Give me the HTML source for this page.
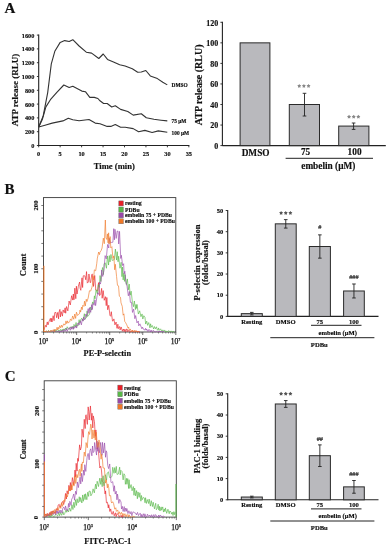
<!DOCTYPE html>
<html><head><meta charset="utf-8"><style>
html,body{margin:0;padding:0;background:#fff;width:390px;height:550px;overflow:hidden;}
svg{display:block;will-change:transform;}
text{font-family:"Liberation Serif",serif;font-weight:bold;stroke:#111;stroke-width:0.16px;}
</style></head><body>
<svg width="390" height="550" viewBox="0 0 390 550">
<rect width="390" height="550" fill="#fff"/>
<text x="10.00" y="8.40" font-size="15" text-anchor="middle" dominant-baseline="central" fill="#111" >A</text>
<text x="9.60" y="189.00" font-size="15" text-anchor="middle" dominant-baseline="central" fill="#111" >B</text>
<text x="10.20" y="376.20" font-size="15" text-anchor="middle" dominant-baseline="central" fill="#111" >C</text>
<line x1="38.70" y1="145.50" x2="189.35" y2="145.50" stroke="#222" stroke-width="1.1"/>
<line x1="38.70" y1="146.00" x2="38.70" y2="34.60" stroke="#222" stroke-width="1.1"/>
<line x1="36.90" y1="145.50" x2="38.70" y2="145.50" stroke="#222" stroke-width="0.9"/>
<text x="34.40" y="145.50" font-size="6.3" text-anchor="end" dominant-baseline="central" fill="#111" >0</text>
<line x1="36.90" y1="131.70" x2="38.70" y2="131.70" stroke="#222" stroke-width="0.9"/>
<text x="34.40" y="131.70" font-size="6.3" text-anchor="end" dominant-baseline="central" fill="#111" >200</text>
<line x1="36.90" y1="117.90" x2="38.70" y2="117.90" stroke="#222" stroke-width="0.9"/>
<text x="34.40" y="117.90" font-size="6.3" text-anchor="end" dominant-baseline="central" fill="#111" >400</text>
<line x1="36.90" y1="104.10" x2="38.70" y2="104.10" stroke="#222" stroke-width="0.9"/>
<text x="34.40" y="104.10" font-size="6.3" text-anchor="end" dominant-baseline="central" fill="#111" >600</text>
<line x1="36.90" y1="90.30" x2="38.70" y2="90.30" stroke="#222" stroke-width="0.9"/>
<text x="34.40" y="90.30" font-size="6.3" text-anchor="end" dominant-baseline="central" fill="#111" >800</text>
<line x1="36.90" y1="76.50" x2="38.70" y2="76.50" stroke="#222" stroke-width="0.9"/>
<text x="34.40" y="76.50" font-size="6.3" text-anchor="end" dominant-baseline="central" fill="#111" >1000</text>
<line x1="36.90" y1="62.70" x2="38.70" y2="62.70" stroke="#222" stroke-width="0.9"/>
<text x="34.40" y="62.70" font-size="6.3" text-anchor="end" dominant-baseline="central" fill="#111" >1200</text>
<line x1="36.90" y1="48.90" x2="38.70" y2="48.90" stroke="#222" stroke-width="0.9"/>
<text x="34.40" y="48.90" font-size="6.3" text-anchor="end" dominant-baseline="central" fill="#111" >1400</text>
<line x1="36.90" y1="35.10" x2="38.70" y2="35.10" stroke="#222" stroke-width="0.9"/>
<text x="34.40" y="35.10" font-size="6.3" text-anchor="end" dominant-baseline="central" fill="#111" >1600</text>
<line x1="38.70" y1="145.50" x2="38.70" y2="147.30" stroke="#222" stroke-width="0.9"/>
<text x="38.70" y="153.10" font-size="6.3" text-anchor="middle" dominant-baseline="central" fill="#111" >0</text>
<line x1="60.15" y1="145.50" x2="60.15" y2="147.30" stroke="#222" stroke-width="0.9"/>
<text x="60.15" y="153.10" font-size="6.3" text-anchor="middle" dominant-baseline="central" fill="#111" >5</text>
<line x1="81.60" y1="145.50" x2="81.60" y2="147.30" stroke="#222" stroke-width="0.9"/>
<text x="81.60" y="153.10" font-size="6.3" text-anchor="middle" dominant-baseline="central" fill="#111" >10</text>
<line x1="103.05" y1="145.50" x2="103.05" y2="147.30" stroke="#222" stroke-width="0.9"/>
<text x="103.05" y="153.10" font-size="6.3" text-anchor="middle" dominant-baseline="central" fill="#111" >15</text>
<line x1="124.50" y1="145.50" x2="124.50" y2="147.30" stroke="#222" stroke-width="0.9"/>
<text x="124.50" y="153.10" font-size="6.3" text-anchor="middle" dominant-baseline="central" fill="#111" >20</text>
<line x1="145.95" y1="145.50" x2="145.95" y2="147.30" stroke="#222" stroke-width="0.9"/>
<text x="145.95" y="153.10" font-size="6.3" text-anchor="middle" dominant-baseline="central" fill="#111" >25</text>
<line x1="167.40" y1="145.50" x2="167.40" y2="147.30" stroke="#222" stroke-width="0.9"/>
<text x="167.40" y="153.10" font-size="6.3" text-anchor="middle" dominant-baseline="central" fill="#111" >30</text>
<line x1="188.85" y1="145.50" x2="188.85" y2="147.30" stroke="#222" stroke-width="0.9"/>
<text x="188.85" y="153.10" font-size="6.3" text-anchor="middle" dominant-baseline="central" fill="#111" >35</text>
<text x="114.30" y="166.00" font-size="8.6" text-anchor="middle" dominant-baseline="central" fill="#111" >Time (min)</text>
<text x="15.30" y="90.00" font-size="9" text-anchor="middle" dominant-baseline="central" fill="#111" transform="rotate(-90 15.30 90.00)" >ATP release (RLU)</text>
<polyline points="38.70,127.00 43.20,115.90 47.70,92.60 51.30,63.90 54.80,51.30 60.20,42.40 64.70,40.60 69.20,41.50 72.80,39.70 79.10,46.00 86.30,52.20 91.60,53.10 98.80,58.50 103.20,54.00 107.50,59.40 113.50,61.90 119.70,64.80 125.10,66.00 132.30,68.70 137.70,72.30 141.30,72.00 145.80,70.50 150.30,75.90 157.40,78.60 162.80,82.20 167.30,84.90" fill="none" stroke="#333" stroke-width="1.1" stroke-linejoin="round" opacity="1"/>
<polyline points="38.70,127.00 42.30,119.50 45.90,106.90 50.40,99.70 56.60,92.60 63.80,85.00 69.20,87.50 72.80,86.30 81.80,91.10 85.40,91.70 89.80,97.40 94.30,97.40 97.90,98.50 100.00,100.80 103.60,103.50 107.20,103.50 111.70,107.00 115.30,105.80 120.60,109.40 127.80,111.50 133.20,115.10 141.30,113.70 146.30,117.80 153.90,119.30 161.00,120.20 167.30,120.90" fill="none" stroke="#333" stroke-width="1.1" stroke-linejoin="round" opacity="1"/>
<polyline points="38.70,127.00 45.00,125.20 52.20,123.10 62.90,120.90 68.30,118.20 72.80,119.80 79.10,120.70 89.00,119.50 95.20,123.10 100.00,123.70 107.20,126.40 110.80,126.40 115.30,124.60 120.60,127.30 125.10,127.30 133.20,128.60 138.60,131.80 144.90,130.40 152.10,132.50 158.30,130.90 167.30,132.20" fill="none" stroke="#333" stroke-width="1.1" stroke-linejoin="round" opacity="1"/>
<text x="171.50" y="85.40" font-size="5.4" text-anchor="start" dominant-baseline="central" fill="#111" >DMSO</text>
<text x="171.50" y="120.80" font-size="5.4" text-anchor="start" dominant-baseline="central" fill="#111" >75 μM</text>
<text x="171.50" y="132.60" font-size="5.4" text-anchor="start" dominant-baseline="central" fill="#111" >100 μM</text>
<line x1="222.40" y1="145.60" x2="385.80" y2="145.60" stroke="#222" stroke-width="1.1"/>
<line x1="222.40" y1="146.10" x2="222.40" y2="21.80" stroke="#222" stroke-width="1.1"/>
<line x1="220.40" y1="145.60" x2="222.40" y2="145.60" stroke="#222" stroke-width="0.9"/>
<text x="218.20" y="146.30" font-size="8" text-anchor="end" dominant-baseline="central" fill="#111" >0</text>
<line x1="220.40" y1="125.05" x2="222.40" y2="125.05" stroke="#222" stroke-width="0.9"/>
<text x="218.20" y="125.75" font-size="8" text-anchor="end" dominant-baseline="central" fill="#111" >20</text>
<line x1="220.40" y1="104.50" x2="222.40" y2="104.50" stroke="#222" stroke-width="0.9"/>
<text x="218.20" y="105.20" font-size="8" text-anchor="end" dominant-baseline="central" fill="#111" >40</text>
<line x1="220.40" y1="83.95" x2="222.40" y2="83.95" stroke="#222" stroke-width="0.9"/>
<text x="218.20" y="84.65" font-size="8" text-anchor="end" dominant-baseline="central" fill="#111" >60</text>
<line x1="220.40" y1="63.40" x2="222.40" y2="63.40" stroke="#222" stroke-width="0.9"/>
<text x="218.20" y="64.10" font-size="8" text-anchor="end" dominant-baseline="central" fill="#111" >80</text>
<line x1="220.40" y1="42.85" x2="222.40" y2="42.85" stroke="#222" stroke-width="0.9"/>
<text x="218.20" y="43.55" font-size="8" text-anchor="end" dominant-baseline="central" fill="#111" >100</text>
<line x1="220.40" y1="22.30" x2="222.40" y2="22.30" stroke="#222" stroke-width="0.9"/>
<text x="218.20" y="23.00" font-size="8" text-anchor="end" dominant-baseline="central" fill="#111" >120</text>
<text x="198.20" y="84.80" font-size="10" text-anchor="middle" dominant-baseline="central" fill="#111" transform="rotate(-90 198.20 84.80)" >ATP release (RLU)</text>
<rect x="240.10" y="42.85" width="29.80" height="102.75" fill="#b9b9bd" stroke="#2a2a2a" stroke-width="1"/>
<rect x="289.30" y="104.50" width="30.20" height="41.10" fill="#b9b9bd" stroke="#2a2a2a" stroke-width="1"/>
<rect x="338.70" y="126.08" width="30.20" height="19.52" fill="#b9b9bd" stroke="#2a2a2a" stroke-width="1"/>
<line x1="304.50" y1="93.30" x2="304.50" y2="116.00" stroke="#222" stroke-width="0.9"/>
<line x1="302.70" y1="93.30" x2="306.30" y2="93.30" stroke="#222" stroke-width="0.9"/>
<line x1="302.70" y1="116.00" x2="306.30" y2="116.00" stroke="#222" stroke-width="0.9"/>
<line x1="353.60" y1="123.00" x2="353.60" y2="129.40" stroke="#222" stroke-width="0.9"/>
<line x1="351.80" y1="123.00" x2="355.40" y2="123.00" stroke="#222" stroke-width="0.9"/>
<line x1="351.80" y1="129.40" x2="355.40" y2="129.40" stroke="#222" stroke-width="0.9"/>
<polygon points="299.25,83.90 299.93,85.07 301.25,85.35 300.35,86.36 300.48,87.70 299.25,87.16 298.02,87.70 298.15,86.36 297.25,85.35 298.57,85.07" fill="#888"/>
<polygon points="303.90,83.90 304.58,85.07 305.90,85.35 305.00,86.36 305.13,87.70 303.90,87.16 302.67,87.70 302.80,86.36 301.90,85.35 303.22,85.07" fill="#888"/>
<polygon points="308.55,83.90 309.23,85.07 310.55,85.35 309.65,86.36 309.78,87.70 308.55,87.16 307.32,87.70 307.45,86.36 306.55,85.35 307.87,85.07" fill="#888"/>
<polygon points="349.05,114.70 349.73,115.87 351.05,116.15 350.15,117.16 350.28,118.50 349.05,117.95 347.82,118.50 347.95,117.16 347.05,116.15 348.37,115.87" fill="#888"/>
<polygon points="353.70,114.70 354.38,115.87 355.70,116.15 354.80,117.16 354.93,118.50 353.70,117.95 352.47,118.50 352.60,117.16 351.70,116.15 353.02,115.87" fill="#888"/>
<polygon points="358.35,114.70 359.03,115.87 360.35,116.15 359.45,117.16 359.58,118.50 358.35,117.95 357.12,118.50 357.25,117.16 356.35,116.15 357.67,115.87" fill="#888"/>
<text x="255.60" y="152.90" font-size="9.3" text-anchor="middle" dominant-baseline="central" fill="#111" >DMSO</text>
<text x="305.60" y="151.90" font-size="9.3" text-anchor="middle" dominant-baseline="central" fill="#111" >75</text>
<text x="354.60" y="151.90" font-size="9.3" text-anchor="middle" dominant-baseline="central" fill="#111" >100</text>
<line x1="285.60" y1="158.30" x2="373.00" y2="158.30" stroke="#222" stroke-width="1"/>
<text x="328.30" y="166.20" font-size="9.3" text-anchor="middle" dominant-baseline="central" fill="#111" >embelin (μM)</text>
<rect x="43.50" y="197.60" width="132.30" height="134.40" fill="none" stroke="#3a3a3a" stroke-width="0.9"/>
<line x1="41.30" y1="332.00" x2="43.50" y2="332.00" stroke="#444" stroke-width="0.7"/>
<line x1="41.30" y1="319.35" x2="43.50" y2="319.35" stroke="#444" stroke-width="0.7"/>
<line x1="41.30" y1="306.70" x2="43.50" y2="306.70" stroke="#444" stroke-width="0.7"/>
<line x1="41.30" y1="294.05" x2="43.50" y2="294.05" stroke="#444" stroke-width="0.7"/>
<line x1="41.30" y1="281.40" x2="43.50" y2="281.40" stroke="#444" stroke-width="0.7"/>
<line x1="41.30" y1="268.75" x2="43.50" y2="268.75" stroke="#444" stroke-width="0.7"/>
<line x1="41.30" y1="256.10" x2="43.50" y2="256.10" stroke="#444" stroke-width="0.7"/>
<line x1="41.30" y1="243.45" x2="43.50" y2="243.45" stroke="#444" stroke-width="0.7"/>
<line x1="41.30" y1="230.80" x2="43.50" y2="230.80" stroke="#444" stroke-width="0.7"/>
<line x1="41.30" y1="218.15" x2="43.50" y2="218.15" stroke="#444" stroke-width="0.7"/>
<line x1="41.30" y1="205.50" x2="43.50" y2="205.50" stroke="#444" stroke-width="0.7"/>
<text x="35.10" y="332.40" font-size="6.6" text-anchor="middle" dominant-baseline="central" fill="#111" transform="rotate(-90 35.10 332.40)" >0</text>
<text x="35.60" y="268.70" font-size="6.6" text-anchor="middle" dominant-baseline="central" fill="#111" transform="rotate(-90 35.60 268.70)" >100</text>
<text x="35.60" y="205.50" font-size="6.6" text-anchor="middle" dominant-baseline="central" fill="#111" transform="rotate(-90 35.60 205.50)" >200</text>
<text x="23.10" y="265.00" font-size="8.5" text-anchor="middle" dominant-baseline="central" fill="#111" transform="rotate(-90 23.10 265.00)" >Count</text>
<text x="107.30" y="353.80" font-size="8.3" text-anchor="middle" dominant-baseline="central" fill="#111" >PE-P-selectin</text>
<line x1="43.60" y1="332.00" x2="43.60" y2="335.00" stroke="#333" stroke-width="0.7"/>
<text x="43.30" y="341.30" font-size="7.5" font-weight="normal" style="font-weight:normal;stroke-width:0.25px" text-anchor="middle" dominant-baseline="central" fill="#111">10<tspan font-size="4.2" dy="-2.6">3</tspan></text>
<line x1="53.55" y1="332.00" x2="53.55" y2="333.50" stroke="#444" stroke-width="0.6"/>
<line x1="59.37" y1="332.00" x2="59.37" y2="333.50" stroke="#444" stroke-width="0.6"/>
<line x1="63.50" y1="332.00" x2="63.50" y2="333.50" stroke="#444" stroke-width="0.6"/>
<line x1="66.70" y1="332.00" x2="66.70" y2="333.50" stroke="#444" stroke-width="0.6"/>
<line x1="69.32" y1="332.00" x2="69.32" y2="333.50" stroke="#444" stroke-width="0.6"/>
<line x1="71.53" y1="332.00" x2="71.53" y2="333.50" stroke="#444" stroke-width="0.6"/>
<line x1="73.45" y1="332.00" x2="73.45" y2="333.50" stroke="#444" stroke-width="0.6"/>
<line x1="75.14" y1="332.00" x2="75.14" y2="333.50" stroke="#444" stroke-width="0.6"/>
<line x1="76.65" y1="332.00" x2="76.65" y2="335.00" stroke="#333" stroke-width="0.7"/>
<text x="76.35" y="341.30" font-size="7.5" font-weight="normal" style="font-weight:normal;stroke-width:0.25px" text-anchor="middle" dominant-baseline="central" fill="#111">10<tspan font-size="4.2" dy="-2.6">4</tspan></text>
<line x1="86.60" y1="332.00" x2="86.60" y2="333.50" stroke="#444" stroke-width="0.6"/>
<line x1="92.42" y1="332.00" x2="92.42" y2="333.50" stroke="#444" stroke-width="0.6"/>
<line x1="96.55" y1="332.00" x2="96.55" y2="333.50" stroke="#444" stroke-width="0.6"/>
<line x1="99.75" y1="332.00" x2="99.75" y2="333.50" stroke="#444" stroke-width="0.6"/>
<line x1="102.37" y1="332.00" x2="102.37" y2="333.50" stroke="#444" stroke-width="0.6"/>
<line x1="104.58" y1="332.00" x2="104.58" y2="333.50" stroke="#444" stroke-width="0.6"/>
<line x1="106.50" y1="332.00" x2="106.50" y2="333.50" stroke="#444" stroke-width="0.6"/>
<line x1="108.19" y1="332.00" x2="108.19" y2="333.50" stroke="#444" stroke-width="0.6"/>
<line x1="109.70" y1="332.00" x2="109.70" y2="335.00" stroke="#333" stroke-width="0.7"/>
<text x="109.40" y="341.30" font-size="7.5" font-weight="normal" style="font-weight:normal;stroke-width:0.25px" text-anchor="middle" dominant-baseline="central" fill="#111">10<tspan font-size="4.2" dy="-2.6">5</tspan></text>
<line x1="119.65" y1="332.00" x2="119.65" y2="333.50" stroke="#444" stroke-width="0.6"/>
<line x1="125.47" y1="332.00" x2="125.47" y2="333.50" stroke="#444" stroke-width="0.6"/>
<line x1="129.60" y1="332.00" x2="129.60" y2="333.50" stroke="#444" stroke-width="0.6"/>
<line x1="132.80" y1="332.00" x2="132.80" y2="333.50" stroke="#444" stroke-width="0.6"/>
<line x1="135.42" y1="332.00" x2="135.42" y2="333.50" stroke="#444" stroke-width="0.6"/>
<line x1="137.63" y1="332.00" x2="137.63" y2="333.50" stroke="#444" stroke-width="0.6"/>
<line x1="139.55" y1="332.00" x2="139.55" y2="333.50" stroke="#444" stroke-width="0.6"/>
<line x1="141.24" y1="332.00" x2="141.24" y2="333.50" stroke="#444" stroke-width="0.6"/>
<line x1="142.75" y1="332.00" x2="142.75" y2="335.00" stroke="#333" stroke-width="0.7"/>
<text x="142.45" y="341.30" font-size="7.5" font-weight="normal" style="font-weight:normal;stroke-width:0.25px" text-anchor="middle" dominant-baseline="central" fill="#111">10<tspan font-size="4.2" dy="-2.6">6</tspan></text>
<line x1="152.70" y1="332.00" x2="152.70" y2="333.50" stroke="#444" stroke-width="0.6"/>
<line x1="158.52" y1="332.00" x2="158.52" y2="333.50" stroke="#444" stroke-width="0.6"/>
<line x1="162.65" y1="332.00" x2="162.65" y2="333.50" stroke="#444" stroke-width="0.6"/>
<line x1="165.85" y1="332.00" x2="165.85" y2="333.50" stroke="#444" stroke-width="0.6"/>
<line x1="168.47" y1="332.00" x2="168.47" y2="333.50" stroke="#444" stroke-width="0.6"/>
<line x1="170.68" y1="332.00" x2="170.68" y2="333.50" stroke="#444" stroke-width="0.6"/>
<line x1="172.60" y1="332.00" x2="172.60" y2="333.50" stroke="#444" stroke-width="0.6"/>
<line x1="174.29" y1="332.00" x2="174.29" y2="333.50" stroke="#444" stroke-width="0.6"/>
<line x1="175.80" y1="332.00" x2="175.80" y2="335.00" stroke="#333" stroke-width="0.7"/>
<text x="175.50" y="341.30" font-size="7.5" font-weight="normal" style="font-weight:normal;stroke-width:0.25px" text-anchor="middle" dominant-baseline="central" fill="#111">10<tspan font-size="4.2" dy="-2.6">7</tspan></text>
<polyline points="44.00,329.99 45.28,325.29 46.26,327.08 47.28,321.91 48.00,324.93 49.07,321.30 50.39,318.35 50.98,321.71 51.49,318.40 51.97,322.00 53.17,315.72 54.07,320.66 54.77,312.62 55.98,312.47 56.64,317.74 57.78,312.39 58.57,318.87 59.02,312.29 59.90,309.37 60.41,316.95 61.11,311.55 62.42,316.14 63.10,309.91 64.26,312.76 65.12,307.85 65.68,313.24 66.51,306.56 67.84,310.88 69.08,301.00 70.30,304.95 71.64,295.74 72.79,300.09 73.30,294.01 73.97,299.77 74.83,288.16 75.80,298.68 76.39,286.20 77.06,294.02 78.36,286.12 79.60,282.01 80.14,288.19 80.81,290.30 82.00,277.82 82.61,287.52 83.26,275.81 84.27,275.63 84.90,275.99 85.75,279.79 86.53,271.59 87.31,283.11 88.35,282.03 88.93,273.99 90.20,282.65 90.66,282.45 91.77,274.45 92.29,273.99 93.55,286.43 94.71,275.49 95.78,290.01 96.61,290.50 97.57,291.03 98.55,282.63 99.57,295.62 100.68,294.45 101.65,288.36 102.17,298.25 103.17,290.61 104.24,300.29 105.52,296.68 106.24,305.64 106.85,297.49 107.69,309.75 108.74,305.25 109.92,315.33 110.71,316.27 111.29,311.70 112.50,321.07 113.20,320.84 113.90,318.91 114.91,324.85 116.12,322.00 116.63,326.70 117.12,328.38 117.85,324.17 118.42,328.62 119.62,326.53 120.11,329.90 121.13,326.96 122.44,331.23 123.32,328.99 124.19,331.60 124.89,329.14 125.81,331.72 126.61,329.00 127.14,328.97 127.71,331.81 128.97,330.13 130.22,332.00 131.08,332.00 132.18,330.32 133.28,332.00 134.61,332.00 135.77,331.11 136.99,331.21 137.84,332.00 138.73,331.61 139.24,332.00 139.99,331.38" fill="none" stroke="#e82028" stroke-width="0.65" stroke-linejoin="round" opacity="1"/>
<polyline points="44.00,332.00 45.05,331.51 45.84,332.00 46.91,330.94 47.95,332.00 48.55,330.47 49.74,331.91 50.49,330.66 50.96,331.81 51.86,331.77 53.17,331.69 53.74,330.39 54.34,332.00 54.94,329.76 55.77,332.00 56.56,330.39 57.88,332.00 58.65,329.82 59.71,331.20 60.49,329.46 61.39,330.97 62.22,329.27 63.06,331.24 63.60,328.89 64.68,330.29 65.44,327.99 66.30,329.98 67.18,326.78 68.49,329.19 69.27,328.96 70.54,326.85 71.68,328.40 72.14,326.18 73.48,328.60 73.95,324.39 75.15,326.92 76.07,322.49 76.76,326.52 77.35,324.82 78.05,325.72 79.13,319.68 79.84,323.11 80.91,319.34 81.74,318.23 83.07,320.87 84.35,313.73 85.17,319.02 86.33,317.86 87.12,310.86 87.58,316.47 88.75,315.37 89.68,313.76 90.22,307.04 91.51,310.05 92.52,301.93 93.60,303.58 94.42,295.85 94.99,298.83 96.07,289.71 97.36,293.81 98.25,284.77 99.30,287.40 100.05,275.59 100.82,281.51 101.66,272.64 102.56,267.52 103.43,274.63 104.10,263.67 105.30,262.91 106.44,268.27 107.48,255.93 108.55,265.04 109.29,255.58 110.01,261.93 110.95,254.45 112.13,260.40 113.12,260.12 114.37,259.52 115.40,249.04 116.56,260.04 117.24,251.70 118.04,261.75 118.64,256.22 119.97,268.23 121.17,262.26 121.94,276.71 122.51,267.09 123.15,279.91 123.88,273.33 124.48,281.37 125.10,274.72 126.33,284.46 127.39,278.93 128.32,289.88 129.22,284.12 130.24,295.17 131.16,291.20 132.44,302.62 133.51,306.67 134.35,300.99 135.47,309.52 135.98,304.55 136.48,308.38 137.03,304.45 138.35,314.06 139.66,310.82 140.94,316.69 142.07,313.93 142.81,319.02 143.80,315.71 144.94,317.22 145.66,324.05 146.71,321.12 147.59,325.34 148.73,322.54 149.95,327.89 150.58,323.82 151.35,327.23 152.35,325.54 153.66,329.01 154.49,326.57 155.51,328.81 156.49,326.80 157.22,329.76 157.97,330.21 158.57,327.94 159.31,330.40 160.61,328.83 161.65,331.10 162.68,329.86 163.22,331.37 164.57,329.96 165.41,331.99 166.07,330.88 167.09,332.00 168.41,330.84 169.21,330.91 170.30,332.00 171.23,330.90 172.27,332.00 173.04,331.38 174.29,332.00" fill="none" stroke="#58b848" stroke-width="0.65" stroke-linejoin="round" opacity="1"/>
<polyline points="44.00,332.00 45.07,331.17 45.72,332.00 46.83,331.50 47.48,332.00 48.68,331.04 49.38,332.00 50.56,332.00 51.68,330.58 52.36,332.00 53.49,330.78 54.27,332.00 54.82,330.49 56.16,332.00 57.28,330.94 58.13,331.94 59.05,330.75 60.05,332.00 60.94,330.67 61.56,332.00 62.60,329.90 63.70,332.00 64.27,329.47 65.30,331.13 66.53,328.45 67.16,331.47 68.26,328.75 69.25,327.59 70.26,330.28 71.03,326.91 71.75,329.25 72.30,327.20 73.33,329.39 73.81,326.32 74.34,328.04 74.90,328.18 75.89,325.41 76.67,328.05 77.42,323.55 78.34,322.93 79.05,325.07 80.32,320.94 81.39,324.88 82.37,318.96 83.08,321.17 83.56,317.03 84.69,319.93 85.84,314.08 86.79,316.37 87.63,311.53 88.18,308.67 88.91,313.37 89.47,307.75 90.71,312.37 91.64,304.74 92.38,309.54 92.94,303.29 94.18,305.24 94.96,299.88 95.60,305.63 96.89,297.06 97.74,292.75 98.95,294.58 99.52,282.17 100.45,284.07 101.17,279.71 101.65,269.98 102.74,276.45 103.92,270.35 105.12,255.62 106.25,258.93 107.60,244.50 108.76,248.00 109.23,238.25 110.53,242.83 111.74,242.37 112.88,242.22 113.75,228.65 114.37,239.85 114.99,229.33 116.18,238.44 117.16,231.17 118.06,231.11 118.70,243.97 119.54,231.37 120.76,258.48 121.35,255.24 122.63,265.54 123.63,263.70 124.09,273.79 124.85,271.23 125.93,282.57 127.04,286.21 128.33,295.83 129.39,291.50 130.38,302.37 131.48,302.31 132.51,312.43 133.66,309.12 134.84,318.70 135.66,315.52 136.97,322.91 138.24,320.99 138.76,325.88 139.94,323.84 140.79,326.01 141.92,328.83 142.50,327.13 143.82,329.68 144.54,329.92 145.07,329.98 145.58,328.35 146.17,330.23 146.67,329.01 147.91,331.59 148.99,329.39 149.58,330.35 150.50,331.97 151.10,329.99 151.93,331.88 152.90,330.52 153.61,330.53 154.64,332.00 155.96,332.00 156.61,331.30 157.46,332.00 158.43,331.28 159.09,332.00 159.54,331.01 160.08,332.00 160.93,331.37 161.38,332.00 161.97,331.11 162.74,332.00 163.29,331.27 164.31,332.00" fill="none" stroke="#9848a8" stroke-width="0.65" stroke-linejoin="round" opacity="1"/>
<polyline points="44.00,332.00 45.04,330.98 45.72,332.00 46.44,330.90 47.59,331.96 48.85,330.77 50.02,332.00 50.97,330.21 52.01,331.50 52.53,330.39 53.35,329.57 54.34,331.72 54.89,329.08 55.51,330.29 56.42,329.86 57.06,327.29 57.61,329.93 58.31,327.39 58.86,328.85 59.74,325.56 60.60,327.79 61.59,325.15 62.25,327.39 62.76,326.02 63.73,323.87 65.03,325.10 65.99,320.89 66.71,323.67 67.58,320.87 68.06,322.98 69.04,322.27 69.81,321.70 70.40,318.93 71.63,320.51 72.62,315.96 73.76,319.28 74.75,314.02 75.65,318.43 76.45,312.17 77.60,315.49 78.60,314.37 79.47,313.73 80.01,310.07 80.59,312.08 81.53,307.05 82.21,309.70 82.78,305.28 83.88,306.44 84.53,301.20 85.30,305.93 86.25,299.24 86.94,301.55 88.17,298.03 89.46,290.75 90.69,291.05 91.92,287.35 92.43,285.20 93.01,276.22 93.46,279.90 94.36,269.85 95.68,270.79 96.71,263.76 97.37,258.14 98.63,252.06 99.49,254.59 99.96,252.17 101.14,250.54 102.06,248.03 103.32,238.14 104.29,243.69 105.35,220.00 105.98,237.96 106.86,239.48 107.42,233.88 108.10,242.95 108.63,232.82 109.10,243.95 110.14,236.57 110.79,247.82 111.87,246.70 112.95,258.41 113.82,255.87 114.72,269.80 115.33,264.25 116.55,276.42 117.48,285.33 118.54,285.84 119.33,296.19 120.49,297.29 121.00,302.77 122.27,306.42 123.15,315.18 123.91,313.85 124.68,321.30 125.52,322.48 126.78,324.82 127.94,327.90 128.59,326.97 129.15,330.13 130.29,328.94 131.48,332.00 132.46,330.46 133.59,331.84 134.16,330.17 135.35,331.80 135.88,330.70 137.15,332.00 138.02,331.18 139.07,332.00" fill="none" stroke="#f07828" stroke-width="0.65" stroke-linejoin="round" opacity="1"/>
<line x1="43.90" y1="332.00" x2="43.90" y2="265.80" stroke="#f07828" stroke-width="1.0"/>
<rect x="118.80" y="200.90" width="4.6" height="5" fill="#e82028" stroke="#666" stroke-width="0.4"/>
<text x="125.00" y="203.40" font-size="5.7" text-anchor="start" dominant-baseline="central" fill="#111" >resting</text>
<rect x="118.80" y="207.00" width="4.6" height="5" fill="#58b848" stroke="#666" stroke-width="0.4"/>
<text x="125.00" y="209.50" font-size="5.7" text-anchor="start" dominant-baseline="central" fill="#111" >PDBu</text>
<rect x="118.80" y="212.80" width="4.6" height="5" fill="#9848a8" stroke="#666" stroke-width="0.4"/>
<text x="125.00" y="215.30" font-size="5.7" text-anchor="start" dominant-baseline="central" fill="#111" >embelin 75 + PDBu</text>
<rect x="118.80" y="218.80" width="4.6" height="5" fill="#f07828" stroke="#666" stroke-width="0.4"/>
<text x="125.00" y="221.30" font-size="5.7" text-anchor="start" dominant-baseline="central" fill="#111" >embelin 100 + PDBu</text>
<rect x="44.20" y="380.80" width="132.10" height="136.30" fill="none" stroke="#3a3a3a" stroke-width="0.9"/>
<line x1="42.20" y1="517.10" x2="44.20" y2="517.10" stroke="#444" stroke-width="0.7"/>
<line x1="42.20" y1="506.47" x2="44.20" y2="506.47" stroke="#444" stroke-width="0.7"/>
<line x1="42.20" y1="495.84" x2="44.20" y2="495.84" stroke="#444" stroke-width="0.7"/>
<line x1="42.20" y1="485.21" x2="44.20" y2="485.21" stroke="#444" stroke-width="0.7"/>
<line x1="42.20" y1="474.58" x2="44.20" y2="474.58" stroke="#444" stroke-width="0.7"/>
<line x1="42.20" y1="463.95" x2="44.20" y2="463.95" stroke="#444" stroke-width="0.7"/>
<line x1="42.20" y1="453.32" x2="44.20" y2="453.32" stroke="#444" stroke-width="0.7"/>
<line x1="42.20" y1="442.69" x2="44.20" y2="442.69" stroke="#444" stroke-width="0.7"/>
<line x1="42.20" y1="432.06" x2="44.20" y2="432.06" stroke="#444" stroke-width="0.7"/>
<line x1="42.20" y1="421.43" x2="44.20" y2="421.43" stroke="#444" stroke-width="0.7"/>
<line x1="42.20" y1="410.80" x2="44.20" y2="410.80" stroke="#444" stroke-width="0.7"/>
<line x1="42.20" y1="400.17" x2="44.20" y2="400.17" stroke="#444" stroke-width="0.7"/>
<line x1="42.20" y1="389.54" x2="44.20" y2="389.54" stroke="#444" stroke-width="0.7"/>
<text x="35.10" y="517.70" font-size="6.6" text-anchor="middle" dominant-baseline="central" fill="#111" transform="rotate(-90 35.10 517.70)" >0</text>
<text x="36.30" y="464.10" font-size="6.6" text-anchor="middle" dominant-baseline="central" fill="#111" transform="rotate(-90 36.30 464.10)" >100</text>
<text x="36.30" y="411.00" font-size="6.6" text-anchor="middle" dominant-baseline="central" fill="#111" transform="rotate(-90 36.30 411.00)" >200</text>
<text x="23.60" y="449.50" font-size="7.4" text-anchor="middle" dominant-baseline="central" fill="#111" transform="rotate(-90 23.60 449.50)" >Count</text>
<text x="107.80" y="540.90" font-size="8.5" text-anchor="middle" dominant-baseline="central" fill="#111" >FITC-PAC-1</text>
<line x1="44.30" y1="517.10" x2="44.30" y2="520.10" stroke="#333" stroke-width="0.7"/>
<text x="44.00" y="527.20" font-size="7.5" font-weight="normal" style="font-weight:normal;stroke-width:0.25px" text-anchor="middle" dominant-baseline="central" fill="#111">10<tspan font-size="4.2" dy="-2.6">2</tspan></text>
<line x1="57.55" y1="517.10" x2="57.55" y2="518.60" stroke="#444" stroke-width="0.6"/>
<line x1="65.29" y1="517.10" x2="65.29" y2="518.60" stroke="#444" stroke-width="0.6"/>
<line x1="70.79" y1="517.10" x2="70.79" y2="518.60" stroke="#444" stroke-width="0.6"/>
<line x1="75.05" y1="517.10" x2="75.05" y2="518.60" stroke="#444" stroke-width="0.6"/>
<line x1="78.54" y1="517.10" x2="78.54" y2="518.60" stroke="#444" stroke-width="0.6"/>
<line x1="81.48" y1="517.10" x2="81.48" y2="518.60" stroke="#444" stroke-width="0.6"/>
<line x1="84.04" y1="517.10" x2="84.04" y2="518.60" stroke="#444" stroke-width="0.6"/>
<line x1="86.29" y1="517.10" x2="86.29" y2="518.60" stroke="#444" stroke-width="0.6"/>
<line x1="88.30" y1="517.10" x2="88.30" y2="520.10" stroke="#333" stroke-width="0.7"/>
<text x="88.00" y="527.20" font-size="7.5" font-weight="normal" style="font-weight:normal;stroke-width:0.25px" text-anchor="middle" dominant-baseline="central" fill="#111">10<tspan font-size="4.2" dy="-2.6">3</tspan></text>
<line x1="101.55" y1="517.10" x2="101.55" y2="518.60" stroke="#444" stroke-width="0.6"/>
<line x1="109.29" y1="517.10" x2="109.29" y2="518.60" stroke="#444" stroke-width="0.6"/>
<line x1="114.79" y1="517.10" x2="114.79" y2="518.60" stroke="#444" stroke-width="0.6"/>
<line x1="119.05" y1="517.10" x2="119.05" y2="518.60" stroke="#444" stroke-width="0.6"/>
<line x1="122.54" y1="517.10" x2="122.54" y2="518.60" stroke="#444" stroke-width="0.6"/>
<line x1="125.48" y1="517.10" x2="125.48" y2="518.60" stroke="#444" stroke-width="0.6"/>
<line x1="128.04" y1="517.10" x2="128.04" y2="518.60" stroke="#444" stroke-width="0.6"/>
<line x1="130.29" y1="517.10" x2="130.29" y2="518.60" stroke="#444" stroke-width="0.6"/>
<line x1="132.30" y1="517.10" x2="132.30" y2="520.10" stroke="#333" stroke-width="0.7"/>
<text x="132.00" y="527.20" font-size="7.5" font-weight="normal" style="font-weight:normal;stroke-width:0.25px" text-anchor="middle" dominant-baseline="central" fill="#111">10<tspan font-size="4.2" dy="-2.6">4</tspan></text>
<line x1="145.55" y1="517.10" x2="145.55" y2="518.60" stroke="#444" stroke-width="0.6"/>
<line x1="153.29" y1="517.10" x2="153.29" y2="518.60" stroke="#444" stroke-width="0.6"/>
<line x1="158.79" y1="517.10" x2="158.79" y2="518.60" stroke="#444" stroke-width="0.6"/>
<line x1="163.05" y1="517.10" x2="163.05" y2="518.60" stroke="#444" stroke-width="0.6"/>
<line x1="166.54" y1="517.10" x2="166.54" y2="518.60" stroke="#444" stroke-width="0.6"/>
<line x1="169.48" y1="517.10" x2="169.48" y2="518.60" stroke="#444" stroke-width="0.6"/>
<line x1="172.04" y1="517.10" x2="172.04" y2="518.60" stroke="#444" stroke-width="0.6"/>
<line x1="174.29" y1="517.10" x2="174.29" y2="518.60" stroke="#444" stroke-width="0.6"/>
<line x1="176.30" y1="517.10" x2="176.30" y2="520.10" stroke="#333" stroke-width="0.7"/>
<text x="176.00" y="527.20" font-size="7.5" font-weight="normal" style="font-weight:normal;stroke-width:0.25px" text-anchor="middle" dominant-baseline="central" fill="#111">10<tspan font-size="4.2" dy="-2.6">5</tspan></text>
<polyline points="44.50,516.24 45.52,513.94 46.68,516.47 47.59,513.43 48.37,515.67 49.54,512.67 50.03,515.84 51.26,511.36 52.01,514.44 53.32,510.96 54.50,512.92 55.36,512.96 56.25,508.89 57.48,510.38 58.11,505.13 59.24,504.34 60.35,507.41 61.54,503.24 62.79,501.37 63.65,504.55 64.45,501.75 65.54,493.46 66.44,498.95 67.08,490.81 68.10,494.03 68.86,485.33 69.85,490.92 70.36,482.54 71.14,489.87 72.40,477.61 73.74,485.03 74.99,470.08 75.66,477.18 76.17,463.30 77.06,471.09 77.74,458.36 78.34,461.29 79.60,444.84 80.48,450.03 81.41,446.62 82.05,429.11 83.29,437.28 84.26,419.32 85.19,428.57 85.65,415.73 86.12,414.75 87.34,424.40 88.16,406.88 88.73,411.37 89.20,420.01 90.43,405.96 91.36,420.19 92.01,413.22 92.80,427.95 93.29,415.90 94.44,421.61 95.31,436.45 95.92,429.93 96.99,449.17 97.79,447.43 98.51,451.63 99.81,467.92 100.72,466.21 101.45,470.06 102.40,481.38 103.73,482.47 105.08,493.96 105.59,490.90 106.44,502.88 107.47,502.22 108.28,507.98 108.77,504.73 109.85,511.49 110.71,508.91 111.60,513.82 112.13,514.36 113.22,511.35 114.24,515.76 115.46,512.78 116.13,516.60 117.13,513.47 118.48,515.17 119.21,516.79 120.15,515.47 121.45,517.10 122.00,515.03 122.64,517.10 123.70,516.16 124.44,516.37" fill="none" stroke="#e82028" stroke-width="0.65" stroke-linejoin="round" opacity="1"/>
<polyline points="44.50,517.10 44.97,515.85 45.53,517.10 46.78,515.98 47.52,515.45 48.58,514.85 49.08,517.10 49.81,515.35 50.78,517.10 52.10,514.41 53.10,516.30 53.83,516.86 54.87,515.87 55.92,514.08 56.84,515.40 57.75,515.94 58.80,512.42 59.58,515.76 60.57,512.59 61.62,515.32 62.97,511.69 63.78,514.92 64.69,513.51 65.95,510.07 66.71,512.28 67.34,509.45 68.50,511.97 69.58,508.01 70.77,511.28 71.98,504.81 72.96,509.55 73.84,502.22 74.60,507.56 75.60,499.71 76.50,505.44 77.11,498.74 77.80,502.60 78.57,502.45 79.24,496.76 79.94,501.72 80.58,497.57 81.86,503.01 82.65,494.95 83.29,501.31 84.41,494.40 85.09,499.62 85.59,493.74 86.84,499.69 87.74,492.21 88.63,496.41 89.08,491.05 90.30,491.42 90.87,495.84 92.06,493.84 93.08,488.85 94.34,492.87 95.55,484.20 96.25,488.98 97.16,481.24 98.49,486.55 99.72,478.21 100.76,484.42 101.26,478.16 102.18,486.68 103.13,475.74 104.05,485.80 105.36,474.68 106.55,480.04 107.16,473.08 108.43,471.85 109.54,477.49 110.84,477.74 112.01,476.07 112.71,467.30 114.00,473.32 114.73,467.57 115.48,472.76 116.31,466.42 117.03,474.44 118.34,473.96 119.65,467.16 120.22,474.90 120.79,470.26 121.98,471.44 123.15,479.88 123.91,473.72 124.88,475.15 125.37,484.31 126.43,478.34 126.89,484.27 127.74,478.52 128.62,488.51 129.09,479.72 129.81,488.37 131.10,484.55 132.05,490.79 133.33,486.50 134.01,495.31 134.67,488.00 135.63,495.89 136.58,490.62 137.37,498.78 138.02,491.93 139.13,497.37 139.86,492.72 140.92,501.18 141.49,495.51 142.18,499.74 143.35,497.33 144.26,497.88 145.04,502.76 145.57,497.69 146.42,503.45 147.39,499.62 148.61,503.54 149.13,499.05 150.41,506.12 151.24,500.68 152.42,506.55 153.18,502.20 154.44,508.82 155.70,503.28 156.30,509.72 157.15,508.74 158.16,504.28 158.87,510.07 159.47,506.34 159.96,511.03 161.16,506.88 161.63,510.23 162.76,506.90 163.49,512.08 164.27,509.05 164.92,511.62 165.43,507.90 166.69,513.34 167.95,509.23 169.20,513.72 169.78,510.97 170.98,511.83 171.53,514.11 172.35,512.26 173.02,515.54 173.86,511.64 174.54,514.59 175.20,512.05" fill="none" stroke="#58b848" stroke-width="0.65" stroke-linejoin="round" opacity="1"/>
<polyline points="44.50,517.10 45.75,516.56 46.58,514.48 47.21,516.49 48.07,514.42 49.16,515.80 50.27,512.93 51.42,515.35 52.43,511.22 53.56,514.53 54.61,511.67 55.49,514.71 56.34,510.61 56.95,513.69 57.57,511.21 58.06,513.35 59.25,510.35 59.96,512.97 60.90,510.03 62.06,513.10 62.72,508.46 63.71,506.94 65.03,510.05 65.50,505.96 66.83,510.70 67.76,510.62 68.53,503.44 69.15,507.18 69.78,501.35 70.42,502.33 71.02,505.39 71.70,499.14 72.55,497.83 73.73,493.98 74.56,500.23 75.58,491.24 76.40,494.40 77.35,481.97 78.36,487.60 79.57,479.51 80.09,477.15 80.75,483.91 81.60,473.28 82.39,481.58 83.62,470.17 84.23,475.28 84.75,464.70 85.82,471.47 86.75,460.63 87.27,456.02 88.17,453.41 89.17,459.87 89.93,450.66 90.69,448.83 91.87,455.83 92.55,446.00 93.20,452.61 94.10,451.19 94.66,442.48 95.88,450.84 96.55,455.07 97.04,440.96 97.82,451.33 98.35,442.25 99.41,452.74 100.68,442.45 102.01,455.29 102.48,442.35 103.59,452.88 104.55,442.92 105.54,457.26 106.12,450.79 106.75,451.95 107.76,465.58 108.60,468.60 109.72,463.97 110.97,482.39 111.54,482.54 112.73,481.69 113.84,491.34 114.47,485.76 115.21,494.07 116.19,491.20 116.92,499.78 117.53,494.09 118.85,503.38 119.68,499.34 121.02,502.06 121.52,509.02 122.32,506.31 123.12,511.48 124.21,506.60 124.81,511.58 125.79,508.02 126.35,511.34 126.93,508.56 127.94,513.58 128.87,510.74 130.20,513.93 131.09,511.53 131.81,515.59 132.97,511.91 133.55,511.86 134.61,513.00 135.93,513.29 136.45,514.97 137.55,512.39 138.46,515.60 139.80,513.38 140.43,513.41 140.94,516.75 141.59,514.49 142.17,517.02 143.34,513.72 144.31,516.90 144.88,513.80 145.86,516.61 146.68,517.08 147.43,514.17 148.63,516.39 149.79,515.01 150.77,517.10 151.60,514.72 152.52,516.98 153.81,514.58 154.50,517.10 155.60,514.57 156.16,515.11 156.80,517.10 157.94,516.80 158.72,515.01 159.31,517.10 159.80,515.46 160.95,515.50 161.90,517.10 162.75,516.36 163.44,515.91 164.59,517.10" fill="none" stroke="#9848a8" stroke-width="0.65" stroke-linejoin="round" opacity="1"/>
<polyline points="44.50,517.10 45.11,514.24 46.17,515.91 46.75,513.73 47.89,515.71 49.23,514.79 50.55,511.87 51.27,515.23 52.40,510.84 53.15,513.59 53.93,510.04 54.66,509.69 55.20,513.40 56.39,508.57 57.08,508.12 57.61,507.90 58.19,510.65 59.52,506.29 60.86,508.42 61.53,502.80 62.56,506.38 63.73,500.27 64.93,501.56 65.89,495.64 66.57,494.40 67.42,496.93 68.56,491.22 69.65,486.65 70.62,491.07 71.27,484.84 72.02,489.98 73.05,482.39 73.99,486.11 75.01,476.04 75.80,483.49 76.90,474.47 77.76,477.71 78.98,470.22 79.62,469.36 80.11,476.51 81.40,463.82 81.90,471.46 82.44,461.95 83.34,462.92 84.24,452.04 85.28,456.30 86.10,442.60 87.30,447.71 87.89,439.04 88.59,431.69 89.60,434.43 90.72,424.13 91.38,426.56 92.03,439.00 92.91,429.90 93.98,438.13 94.58,429.99 95.24,440.06 96.30,432.32 97.04,442.08 97.99,447.43 99.01,439.94 99.79,445.09 101.09,459.20 101.62,454.24 102.39,458.54 103.06,467.96 104.38,468.01 105.53,483.11 106.31,479.75 107.37,487.90 107.93,483.93 108.84,488.03 109.43,495.83 110.67,495.59 111.24,501.76 111.76,503.06 112.67,501.73 113.56,503.38 114.77,509.16 115.79,507.76 116.40,511.40 117.72,509.96 118.54,514.23 119.42,511.81 120.36,514.46 121.47,512.30 122.51,515.47 122.96,513.42 123.91,515.86 124.92,513.67 126.07,516.96 126.67,514.83 127.82,514.79 128.41,517.06 129.03,514.68 130.31,517.10 131.46,517.00 132.69,515.93 133.81,517.10 134.73,516.48" fill="none" stroke="#f07828" stroke-width="0.65" stroke-linejoin="round" opacity="1"/>
<line x1="44.40" y1="517.10" x2="44.40" y2="454.50" stroke="#9848a8" stroke-width="0.9"/>
<line x1="44.40" y1="517.10" x2="44.40" y2="461.50" stroke="#f07828" stroke-width="0.9"/>
<line x1="176.00" y1="517.10" x2="176.00" y2="484.00" stroke="#58b848" stroke-width="1.0"/>
<rect x="117.80" y="385.10" width="4.6" height="5" fill="#e82028" stroke="#666" stroke-width="0.4"/>
<text x="124.00" y="387.60" font-size="5.7" text-anchor="start" dominant-baseline="central" fill="#111" >resting</text>
<rect x="117.80" y="391.80" width="4.6" height="5" fill="#58b848" stroke="#666" stroke-width="0.4"/>
<text x="124.00" y="394.30" font-size="5.7" text-anchor="start" dominant-baseline="central" fill="#111" >PDBu</text>
<rect x="117.80" y="398.30" width="4.6" height="5" fill="#9848a8" stroke="#666" stroke-width="0.4"/>
<text x="124.00" y="400.80" font-size="5.7" text-anchor="start" dominant-baseline="central" fill="#111" >embelin 75 + PDBu</text>
<rect x="117.80" y="404.20" width="4.6" height="5" fill="#f07828" stroke="#666" stroke-width="0.4"/>
<text x="124.00" y="406.70" font-size="5.7" text-anchor="start" dominant-baseline="central" fill="#111" >embelin 100 + PDBu</text>
<line x1="227.70" y1="316.40" x2="378.50" y2="316.40" stroke="#222" stroke-width="1.1"/>
<line x1="227.70" y1="316.90" x2="227.70" y2="210.00" stroke="#222" stroke-width="1.1"/>
<line x1="225.70" y1="316.40" x2="227.70" y2="316.40" stroke="#222" stroke-width="0.9"/>
<text x="223.20" y="316.00" font-size="6.5" text-anchor="end" dominant-baseline="central" fill="#111" >0</text>
<line x1="225.70" y1="295.22" x2="227.70" y2="295.22" stroke="#222" stroke-width="0.9"/>
<text x="223.20" y="294.82" font-size="6.5" text-anchor="end" dominant-baseline="central" fill="#111" >10</text>
<line x1="225.70" y1="274.04" x2="227.70" y2="274.04" stroke="#222" stroke-width="0.9"/>
<text x="223.20" y="273.64" font-size="6.5" text-anchor="end" dominant-baseline="central" fill="#111" >20</text>
<line x1="225.70" y1="252.86" x2="227.70" y2="252.86" stroke="#222" stroke-width="0.9"/>
<text x="223.20" y="252.46" font-size="6.5" text-anchor="end" dominant-baseline="central" fill="#111" >30</text>
<line x1="225.70" y1="231.68" x2="227.70" y2="231.68" stroke="#222" stroke-width="0.9"/>
<text x="223.20" y="231.28" font-size="6.5" text-anchor="end" dominant-baseline="central" fill="#111" >40</text>
<line x1="225.70" y1="210.50" x2="227.70" y2="210.50" stroke="#222" stroke-width="0.9"/>
<text x="223.20" y="210.10" font-size="6.5" text-anchor="end" dominant-baseline="central" fill="#111" >50</text>
<text x="197.40" y="262.50" font-size="8.6" text-anchor="middle" dominant-baseline="central" fill="#111" transform="rotate(-90 197.40 262.50)" >P-selectin expression</text>
<text x="205.10" y="262.50" font-size="8.6" text-anchor="middle" dominant-baseline="central" fill="#111" transform="rotate(-90 205.10 262.50)" >(folds/basal)</text>
<rect x="241.30" y="313.65" width="21.00" height="2.75" fill="#b9b9bd" stroke="#2a2a2a" stroke-width="1"/>
<line x1="251.80" y1="312.38" x2="251.80" y2="314.92" stroke="#222" stroke-width="0.9"/>
<line x1="250.00" y1="312.38" x2="253.60" y2="312.38" stroke="#222" stroke-width="0.9"/>
<line x1="250.00" y1="314.92" x2="253.60" y2="314.92" stroke="#222" stroke-width="0.9"/>
<rect x="275.30" y="223.84" width="20.90" height="92.56" fill="#b9b9bd" stroke="#2a2a2a" stroke-width="1"/>
<line x1="285.75" y1="219.61" x2="285.75" y2="228.08" stroke="#222" stroke-width="0.9"/>
<line x1="283.95" y1="219.61" x2="287.55" y2="219.61" stroke="#222" stroke-width="0.9"/>
<line x1="283.95" y1="228.08" x2="287.55" y2="228.08" stroke="#222" stroke-width="0.9"/>
<rect x="309.30" y="246.51" width="21.10" height="69.89" fill="#b9b9bd" stroke="#2a2a2a" stroke-width="1"/>
<line x1="319.85" y1="234.86" x2="319.85" y2="258.15" stroke="#222" stroke-width="0.9"/>
<line x1="318.05" y1="234.86" x2="321.65" y2="234.86" stroke="#222" stroke-width="0.9"/>
<line x1="318.05" y1="258.15" x2="321.65" y2="258.15" stroke="#222" stroke-width="0.9"/>
<rect x="343.60" y="290.98" width="20.70" height="25.42" fill="#b9b9bd" stroke="#2a2a2a" stroke-width="1"/>
<line x1="353.95" y1="283.99" x2="353.95" y2="297.97" stroke="#222" stroke-width="0.9"/>
<line x1="352.15" y1="283.99" x2="355.75" y2="283.99" stroke="#222" stroke-width="0.9"/>
<line x1="352.15" y1="297.97" x2="355.75" y2="297.97" stroke="#222" stroke-width="0.9"/>
<polygon points="281.10,210.90 281.78,212.07 283.10,212.35 282.20,213.36 282.33,214.70 281.10,214.16 279.87,214.70 280.00,213.36 279.10,212.35 280.42,212.07" fill="#555"/>
<polygon points="285.75,210.90 286.43,212.07 287.75,212.35 286.85,213.36 286.98,214.70 285.75,214.16 284.52,214.70 284.65,213.36 283.75,212.35 285.07,212.07" fill="#555"/>
<polygon points="290.40,210.90 291.08,212.07 292.40,212.35 291.50,213.36 291.63,214.70 290.40,214.16 289.17,214.70 289.30,213.36 288.40,212.35 289.72,212.07" fill="#555"/>
<text x="319.85" y="226.40" font-size="6.3" text-anchor="middle" dominant-baseline="central" fill="#444" >#</text>
<text x="353.95" y="276.80" font-size="6.3" text-anchor="middle" dominant-baseline="central" fill="#444" >###</text>
<text x="251.80" y="321.00" font-size="6.6" text-anchor="middle" dominant-baseline="central" fill="#111" >Resting</text>
<text x="285.75" y="321.00" font-size="6.6" text-anchor="middle" dominant-baseline="central" fill="#111" >DMSO</text>
<text x="319.85" y="321.00" font-size="6.6" text-anchor="middle" dominant-baseline="central" fill="#111" >75</text>
<text x="353.95" y="321.00" font-size="6.6" text-anchor="middle" dominant-baseline="central" fill="#111" >100</text>
<line x1="311.00" y1="325.30" x2="361.50" y2="325.30" stroke="#222" stroke-width="1"/>
<text x="337.80" y="332.00" font-size="6.6" text-anchor="middle" dominant-baseline="central" fill="#111" >embelin (μM)</text>
<line x1="270.30" y1="337.70" x2="374.40" y2="337.70" stroke="#222" stroke-width="1"/>
<text x="319.30" y="344.30" font-size="6.6" text-anchor="middle" dominant-baseline="central" fill="#111" >PDBu</text>
<line x1="227.70" y1="499.80" x2="378.50" y2="499.80" stroke="#222" stroke-width="1.1"/>
<line x1="227.70" y1="500.30" x2="227.70" y2="393.30" stroke="#222" stroke-width="1.1"/>
<line x1="225.70" y1="499.80" x2="227.70" y2="499.80" stroke="#222" stroke-width="0.9"/>
<text x="223.20" y="499.40" font-size="6.5" text-anchor="end" dominant-baseline="central" fill="#111" >0</text>
<line x1="225.70" y1="478.60" x2="227.70" y2="478.60" stroke="#222" stroke-width="0.9"/>
<text x="223.20" y="478.20" font-size="6.5" text-anchor="end" dominant-baseline="central" fill="#111" >10</text>
<line x1="225.70" y1="457.40" x2="227.70" y2="457.40" stroke="#222" stroke-width="0.9"/>
<text x="223.20" y="457.00" font-size="6.5" text-anchor="end" dominant-baseline="central" fill="#111" >20</text>
<line x1="225.70" y1="436.20" x2="227.70" y2="436.20" stroke="#222" stroke-width="0.9"/>
<text x="223.20" y="435.80" font-size="6.5" text-anchor="end" dominant-baseline="central" fill="#111" >30</text>
<line x1="225.70" y1="415.00" x2="227.70" y2="415.00" stroke="#222" stroke-width="0.9"/>
<text x="223.20" y="414.60" font-size="6.5" text-anchor="end" dominant-baseline="central" fill="#111" >40</text>
<line x1="225.70" y1="393.80" x2="227.70" y2="393.80" stroke="#222" stroke-width="0.9"/>
<text x="223.20" y="393.40" font-size="6.5" text-anchor="end" dominant-baseline="central" fill="#111" >50</text>
<text x="197.40" y="446.00" font-size="8.6" text-anchor="middle" dominant-baseline="central" fill="#111" transform="rotate(-90 197.40 446.00)" >PAC-1 binding</text>
<text x="205.10" y="446.00" font-size="8.6" text-anchor="middle" dominant-baseline="central" fill="#111" transform="rotate(-90 205.10 446.00)" >(folds/basal)</text>
<rect x="241.30" y="497.04" width="21.00" height="2.76" fill="#b9b9bd" stroke="#2a2a2a" stroke-width="1"/>
<line x1="251.80" y1="496.20" x2="251.80" y2="497.89" stroke="#222" stroke-width="0.9"/>
<line x1="250.00" y1="496.20" x2="253.60" y2="496.20" stroke="#222" stroke-width="0.9"/>
<line x1="250.00" y1="497.89" x2="253.60" y2="497.89" stroke="#222" stroke-width="0.9"/>
<rect x="275.30" y="403.98" width="20.90" height="95.82" fill="#b9b9bd" stroke="#2a2a2a" stroke-width="1"/>
<line x1="285.75" y1="400.58" x2="285.75" y2="407.37" stroke="#222" stroke-width="0.9"/>
<line x1="283.95" y1="400.58" x2="287.55" y2="400.58" stroke="#222" stroke-width="0.9"/>
<line x1="283.95" y1="407.37" x2="287.55" y2="407.37" stroke="#222" stroke-width="0.9"/>
<rect x="309.30" y="455.70" width="21.10" height="44.10" fill="#b9b9bd" stroke="#2a2a2a" stroke-width="1"/>
<line x1="319.85" y1="444.89" x2="319.85" y2="466.52" stroke="#222" stroke-width="0.9"/>
<line x1="318.05" y1="444.89" x2="321.65" y2="444.89" stroke="#222" stroke-width="0.9"/>
<line x1="318.05" y1="466.52" x2="321.65" y2="466.52" stroke="#222" stroke-width="0.9"/>
<rect x="343.60" y="486.87" width="20.70" height="12.93" fill="#b9b9bd" stroke="#2a2a2a" stroke-width="1"/>
<line x1="353.95" y1="480.51" x2="353.95" y2="493.23" stroke="#222" stroke-width="0.9"/>
<line x1="352.15" y1="480.51" x2="355.75" y2="480.51" stroke="#222" stroke-width="0.9"/>
<line x1="352.15" y1="493.23" x2="355.75" y2="493.23" stroke="#222" stroke-width="0.9"/>
<polygon points="281.10,391.70 281.78,392.87 283.10,393.15 282.20,394.16 282.33,395.50 281.10,394.95 279.87,395.50 280.00,394.16 279.10,393.15 280.42,392.87" fill="#555"/>
<polygon points="285.75,391.70 286.43,392.87 287.75,393.15 286.85,394.16 286.98,395.50 285.75,394.95 284.52,395.50 284.65,394.16 283.75,393.15 285.07,392.87" fill="#555"/>
<polygon points="290.40,391.70 291.08,392.87 292.40,393.15 291.50,394.16 291.63,395.50 290.40,394.95 289.17,395.50 289.30,394.16 288.40,393.15 289.72,392.87" fill="#555"/>
<text x="319.85" y="438.40" font-size="6.3" text-anchor="middle" dominant-baseline="central" fill="#444" >##</text>
<text x="353.95" y="473.40" font-size="6.3" text-anchor="middle" dominant-baseline="central" fill="#444" >###</text>
<text x="251.80" y="504.20" font-size="6.6" text-anchor="middle" dominant-baseline="central" fill="#111" >Resting</text>
<text x="285.75" y="504.20" font-size="6.6" text-anchor="middle" dominant-baseline="central" fill="#111" >DMSO</text>
<text x="319.85" y="504.20" font-size="6.6" text-anchor="middle" dominant-baseline="central" fill="#111" >75</text>
<text x="353.95" y="504.20" font-size="6.6" text-anchor="middle" dominant-baseline="central" fill="#111" >100</text>
<line x1="311.00" y1="508.90" x2="361.50" y2="508.90" stroke="#222" stroke-width="1"/>
<text x="337.80" y="515.80" font-size="6.6" text-anchor="middle" dominant-baseline="central" fill="#111" >embelin (μM)</text>
<line x1="270.30" y1="521.00" x2="374.40" y2="521.00" stroke="#222" stroke-width="1"/>
<text x="319.30" y="527.00" font-size="6.6" text-anchor="middle" dominant-baseline="central" fill="#111" >PDBu</text>
</svg></body></html>
